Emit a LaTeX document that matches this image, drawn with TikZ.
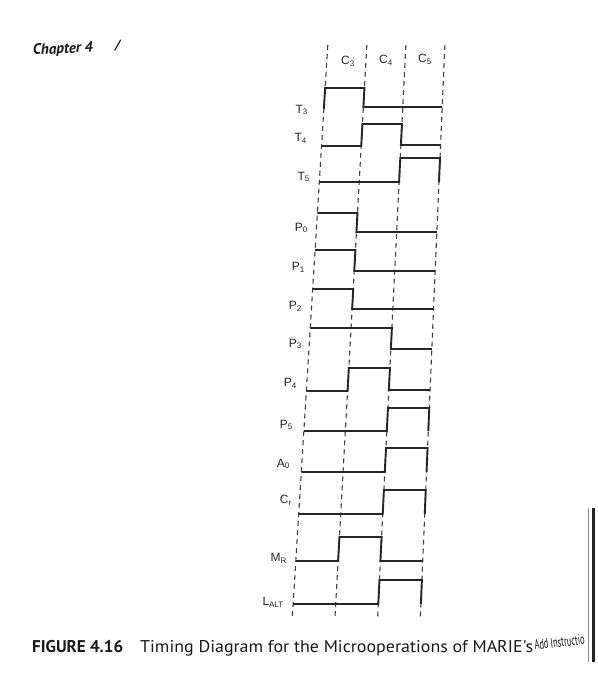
\documentclass[tikz,border=0pt]{standalone}
\usepackage{fontspec}
\setmainfont{Liberation Sans}
\newfontfamily\capfont{PT Sans}
\begin{document}
\begin{tikzpicture}[x=1pt,y=-1pt,
  declare function={X(\i,\y)=328+39*\i+((\y-42)/580)*(-36+3.7*\i);},
  sig/.style={line width=1.9pt, draw=black!85, line join=miter},
  dline/.style={line width=1.1pt, dash pattern=on 5pt off 4pt, draw=black!75},
  lab/.style={font=\fontsize{12}{13}\selectfont, anchor=east, inner sep=0pt, text=black!85},
  clab/.style={font=\fontsize{12}{13}\selectfont, inner sep=0pt, text=black!85},
  captxt/.style={inner sep=0pt, anchor=base west, text=black!90}]
\useasboundingbox[fill=white] (0,0) rectangle (597,700);
% header
\node[captxt, font=\capfont\bfseries\itshape\fontsize{15}{16}\selectfont, rotate=3] (hdr) at (33,55) {Chapter 4};
\node[captxt, font=\capfont\bfseries\itshape\fontsize{13}{14}\selectfont, rotate=3] (slash) at (115,50) {/};
% dashed cycle boundaries
\foreach \k in {0,1,2,3}{
  \coordinate (d\k t) at ({X(\k,45)},45);
  \coordinate (d\k b) at ({X(\k,619)},619);
  \draw[dline] (d\k t) -- (d\k b);
}
% cycle labels
\node[clab] (c3) at (348,61) {C\textsubscript{3}};
\node[clab] (c4) at (386,60) {C\textsubscript{4}};
\node[clab] (c5) at (425,59) {C\textsubscript{5}};
% signal labels
\node[lab] (lt3) at (308,110) {T\textsubscript{3}};
\node[lab] (lt4) at (307,138) {T\textsubscript{4}};
\node[lab] (lt5) at (310,177) {T\textsubscript{5}};
\node[lab] (lp0) at (308,228) {P\textsubscript{0}};
\node[lab] (lp1) at (305,267) {P\textsubscript{1}};
\node[lab] (lp2) at (302,306) {P\textsubscript{2}};
\node[lab] (lp3) at (302,344) {P\textsubscript{3}};
\node[lab] (lp4) at (297,383) {P\textsubscript{4}};
\node[lab] (lp5) at (293,425) {P\textsubscript{5}};
\node[lab] (la0) at (290,464) {A\textsubscript{0}};
\node[lab] (lcr) at (292,500) {C\textsubscript{r}};
\node[lab] (lmr) at (287,558) {M\textsubscript{R}};
\node[lab] (lalt) at (284,602) {L\textsubscript{ALT}};
% waveforms
\draw[sig] ({X(0,109)},109) -- ({X(0,88)},88) -- ({X(1,88)},88) -- ({X(1,107)},107) -- ({X(3,107)},107);
\draw[sig] ({X(0,146)},146) -- ({X(1,146)},146) -- ({X(1,124)},124) -- ({X(2,124)},124) -- ({X(2,145)},145) -- ({X(3,145)},145);
\draw[sig] ({X(0,182)},182) -- ({X(2,182)},182) -- ({X(2,158)},158) -- ({X(3,158)},158) -- ({X(3,182)},182);
\draw[sig] ({X(0,213)},213) -- ({X(1,213)},213) -- ({X(1,232)},232) -- ({X(3,232)},232);
\draw[sig] ({X(0,250)},250) -- ({X(1,250)},250) -- ({X(1,271)},271) -- ({X(3,271)},271);
\draw[sig] ({X(0,289)},289) -- ({X(1,289)},289) -- ({X(1,309)},309) -- ({X(3,309)},309);
\draw[sig] ({X(0,328)},328) -- ({X(2,328)},328) -- ({X(2,349)},349) -- ({X(3,349)},349);
\draw[sig] ({X(0,391)},391) -- ({X(1,391)},391) -- ({X(1,368)},368) -- ({X(2,368)},368) -- ({X(2,390)},390) -- ({X(3,390)},390);
\draw[sig] ({X(0,431)},431) -- ({X(2,431)},431) -- ({X(2,408)},408) -- ({X(3,408)},408) -- ({X(3,431)},431);
\draw[sig] ({X(0,472)},472) -- ({X(2,472)},472) -- ({X(2,448)},448) -- ({X(3,448)},448) -- ({X(3,472)},472);
\draw[sig] ({X(0,514)},514) -- ({X(2,514)},514) -- ({X(2,490)},490) -- ({X(3,490)},490) -- ({X(3,514)},514);
\draw[sig] ({X(0,561)},561) -- ({X(1,561)},561) -- ({X(1,537)},537) -- ({X(2,537)},537) -- ({X(2,561)},561) -- ({X(3,561)},561);
\draw[sig] ({X(0,604)},604) -- ({X(2,604)},604) -- ({X(2,580)},580) -- ({X(3,580)},580) -- ({X(3,604)},604);
% caption
\node[captxt, font=\capfont\bfseries\fontsize{17}{18}\selectfont] (fig) at (32,652) {FIGURE 4.16};
\node[captxt, font=\capfont\fontsize{17}{18}\selectfont, xscale=1.055] (title) at (140,652) {Timing Diagram for the Microoperations of MARIE's};
\node[captxt, font=\capfont\fontsize{14}{15}\selectfont, rotate=7, xscale=0.6] (tail) at (535,650) {Add Instructio};
% page edge
\coordinate (e1) at (588,508);
\coordinate (e2) at (588,662);
\coordinate (e3) at (593.5,508);
\coordinate (e4) at (593.5,662);
\draw[line width=0.8pt, black!45] (e1) -- (e2);
\draw[line width=2.5pt, black!85] (e3) -- (e4);
\end{tikzpicture}
\end{document}
